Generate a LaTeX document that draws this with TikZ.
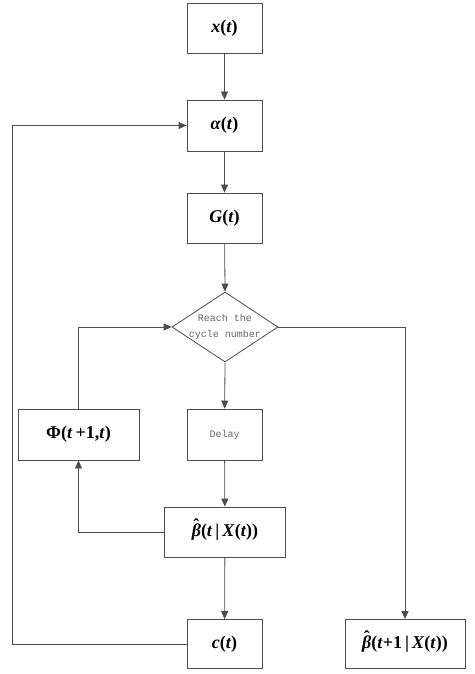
\documentclass[tikz,border=0pt]{standalone}
\usepackage{fontspec}
\setmainfont{Liberation Serif}
\setmonofont{Liberation Mono}
\usetikzlibrary{arrows.meta,shapes.geometric}
\newcommand{\bi}[1]{\textbf{\textit{#1}}}
\newcommand{\hatbeta}{\leavevmode\ooalign{\bi{β}\cr\hidewidth\raisebox{0.62ex}{\bfseries ˆ}\hidewidth\cr}}
\begin{document}
\begin{tikzpicture}[x=1pt,y=-1pt,
  line width=0.8pt,
  ln/.style={draw=black!70},
  box/.style={draw=black!70,rectangle,inner sep=0pt,font=\fontsize{18}{20}\selectfont\bfseries},
  arr/.style={ln,-{Triangle[length=8pt,width=7pt]}},
  monotxt/.style={font=\ttfamily\fontsize{10}{16}\selectfont,text=black!60}]
\useasboundingbox (0,0) rectangle (474,674);
\node[box,minimum width=75pt,minimum height=50pt] (x) at (224.5,28) {\bi{x}(\bi{t})};
\node[box,minimum width=75pt,minimum height=51pt] (a) at (224.5,125.5) {\bi{α}(\bi{t})};
\node[box,minimum width=75pt,minimum height=50pt] (g) at (224.5,218) {\bi{G}(\bi{t})};
\node[diamond,draw=black!70,minimum width=106pt,minimum height=70pt,inner sep=0pt,aspect=1.5] (d) at (225,327) {};
\node[monotxt,align=center] at (d.center) {Reach the\\cycle number};
\node[box,minimum width=121pt,minimum height=51pt] (phi) at (78.5,434.5) {Φ(\bi{t}\,+1,\bi{t})};
\node[box,minimum width=75pt,minimum height=51pt,monotxt] (delay) at (224.5,434.5) {Delay};
\node[box,minimum width=121pt,minimum height=50pt] (b) at (225,532) {\hatbeta(\bi{t}\,|\,\bi{X}(\bi{t}))};
\node[box,minimum width=75pt,minimum height=49pt] (c) at (224.5,644) {\bi{c}(\bi{t})};
\node[box,minimum width=120pt,minimum height=49pt] (b1) at (405,644) {\hatbeta(\bi{t}+1\,|\,\bi{X}(\bi{t}))};
\coordinate (lt) at (12,125.5);
\coordinate (lb) at (12,644);
\coordinate (rt) at (405,327);
\coordinate (pl) at (78.5,532);
\coordinate (pt) at (78.5,327);
\draw[arr] (x) -- (a);
\draw[arr] (a) -- (g);
\draw[arr] (g) -- (d.north);
\draw[arr] (d.south) -- (delay);
\draw[arr] (delay) -- (b);
\draw[arr] (b) -- (c);
\draw[arr] (c.west) -- (lb) -- (lt) -- (a.west);
\draw[arr] (d.east) -- (rt) -- (b1.north);
\draw[arr] (b.west) -- (pl) -- (phi.south);
\draw[arr] (phi.north) -- (pt) -- (d.west);
\end{tikzpicture}
\end{document}
